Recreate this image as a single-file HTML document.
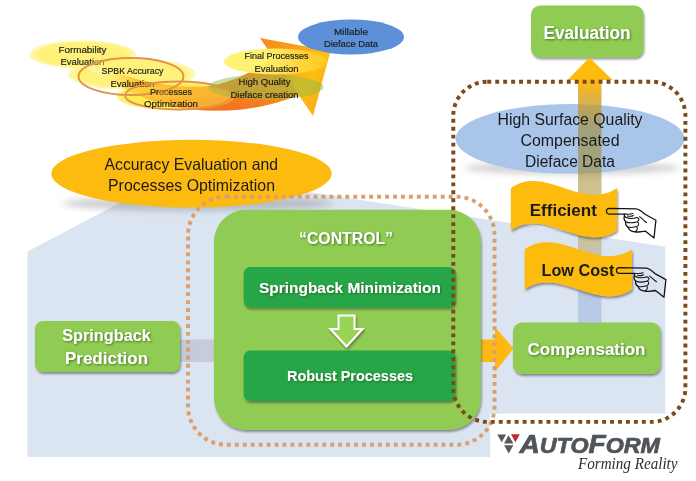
<!DOCTYPE html>
<html>
<head>
<meta charset="utf-8">
<title>Springback Control Diagram</title>
<style>
html,body{margin:0;padding:0;background:#ffffff;}
body{width:696px;height:481px;overflow:hidden;font-family:"Liberation Sans",sans-serif;}
svg{display:block;filter:blur(0.350px);}
text{font-family:"Liberation Sans",sans-serif;}
.w{fill:#ffffff;font-weight:bold;}
.k{fill:#1a1a1a;}
#swoosh text{fill:#1c1c1c;stroke:#1c1c1c;stroke-width:0.18px;}
.serif{font-family:"Liberation Serif",serif;}
</style>
</head>
<body>
<svg width="696" height="481" viewBox="0 0 696 481">
<defs>
  <filter id="blur3" x="-20%" y="-50%" width="140%" height="200%"><feGaussianBlur stdDeviation="3"/></filter>
  <filter id="blur2" x="-20%" y="-50%" width="140%" height="200%"><feGaussianBlur stdDeviation="2"/></filter>
  <filter id="blur1" x="-20%" y="-20%" width="140%" height="140%"><feGaussianBlur stdDeviation="1"/></filter>
  <filter id="soft" x="-5%" y="-5%" width="110%" height="110%"><feGaussianBlur stdDeviation="0.6"/></filter>
  <filter id="tsh" x="-10%" y="-30%" width="120%" height="170%">
    <feGaussianBlur in="SourceAlpha" stdDeviation="1.1" result="b"/>
    <feOffset in="b" dx="0.8" dy="1" result="o"/>
    <feFlood flood-color="#2a5a10" flood-opacity="0.75"/>
    <feComposite in2="o" operator="in" result="s"/>
    <feMerge><feMergeNode in="s"/><feMergeNode in="SourceGraphic"/></feMerge>
  </filter>
  <filter id="bsh" x="-10%" y="-20%" width="120%" height="150%">
    <feGaussianBlur in="SourceAlpha" stdDeviation="1.3" result="b"/>
    <feOffset in="b" dx="1" dy="2.2" result="o"/>
    <feFlood flood-color="#303030" flood-opacity="0.5"/>
    <feComposite in2="o" operator="in" result="s"/>
    <feMerge><feMergeNode in="s"/><feMergeNode in="SourceGraphic"/></feMerge>
  </filter>
  <linearGradient id="gUp" x1="0" y1="57" x2="0" y2="323" gradientUnits="userSpaceOnUse">
    <stop offset="0" stop-color="#ffc000" stop-opacity="1"/>
    <stop offset="0.1" stop-color="#fbb917" stop-opacity="1"/>
    <stop offset="0.17" stop-color="#d09c20" stop-opacity="0.78"/>
    <stop offset="0.27" stop-color="#9c8424" stop-opacity="0.56"/>
    <stop offset="0.45" stop-color="#9e8828" stop-opacity="0.55"/>
    <stop offset="0.7" stop-color="#b8a050" stop-opacity="0.5"/>
    <stop offset="0.88" stop-color="#94afdc" stop-opacity="0.5"/>
    <stop offset="1" stop-color="#94afdc" stop-opacity="0.5"/>
  </linearGradient>
  <linearGradient id="gRight" x1="180" y1="0" x2="513" y2="0" gradientUnits="userSpaceOnUse">
    <stop offset="0" stop-color="#c2cadb" stop-opacity="1"/>
    <stop offset="0.1" stop-color="#c4ccdc" stop-opacity="0.95"/>
    <stop offset="0.102" stop-color="#a8c860" stop-opacity="0.3"/>
    <stop offset="0.6" stop-color="#b4cc50" stop-opacity="0.3"/>
    <stop offset="0.9" stop-color="#c8c840" stop-opacity="0.35"/>
    <stop offset="0.907" stop-color="#fdb813" stop-opacity="1"/>
    <stop offset="1" stop-color="#fdb813" stop-opacity="1"/>
  </linearGradient>
  <linearGradient id="gSwoosh" x1="82" y1="0" x2="330" y2="0" gradientUnits="userSpaceOnUse">
    <stop offset="0" stop-color="#fffbc8"/>
    <stop offset="0.13" stop-color="#ffec70"/>
    <stop offset="0.24" stop-color="#fbb626"/>
    <stop offset="0.42" stop-color="#f7941d"/>
    <stop offset="0.6" stop-color="#f58220"/>
    <stop offset="0.8" stop-color="#f7941d"/>
    <stop offset="1" stop-color="#fdb813"/>
  </linearGradient>
  <linearGradient id="gSwooshV" x1="0" y1="80" x2="0" y2="111" gradientUnits="userSpaceOnUse">
    <stop offset="0" stop-color="#f26a21" stop-opacity="0"/>
    <stop offset="0.45" stop-color="#f26a21" stop-opacity="0"/>
    <stop offset="1" stop-color="#f26a21" stop-opacity="0.75"/>
  </linearGradient>
  <linearGradient id="gHead" x1="262" y1="40" x2="322" y2="82" gradientUnits="userSpaceOnUse">
    <stop offset="0" stop-color="#f68b1f"/>
    <stop offset="0.45" stop-color="#f9a01b"/>
    <stop offset="0.8" stop-color="#fdc010"/>
    <stop offset="1" stop-color="#fcb315"/>
  </linearGradient>
  <linearGradient id="gFinal" x1="224" y1="0" x2="328" y2="0" gradientUnits="userSpaceOnUse">
    <stop offset="0" stop-color="#fff36e" stop-opacity="0.97"/>
    <stop offset="0.5" stop-color="#fff066" stop-opacity="0.92"/>
    <stop offset="0.8" stop-color="#ffe64a" stop-opacity="0.6"/>
    <stop offset="1" stop-color="#ffd83a" stop-opacity="0.35"/>
  </linearGradient>
  <radialGradient id="gY" cx="0.5" cy="0.5" r="0.5">
    <stop offset="0" stop-color="#fff27a" stop-opacity="1"/>
    <stop offset="0.82" stop-color="#fff27a" stop-opacity="1"/>
    <stop offset="1" stop-color="#fff27a" stop-opacity="0.5"/>
  </radialGradient>
  <radialGradient id="gY2" cx="0.5" cy="0.5" r="0.5">
    <stop offset="0" stop-color="#ffee5c" stop-opacity="1"/>
    <stop offset="0.82" stop-color="#ffee5c" stop-opacity="1"/>
    <stop offset="1" stop-color="#ffee5c" stop-opacity="0.5"/>
  </radialGradient>
</defs>

<!-- ===== background platform ===== -->
<g id="bg">
  <polygon points="27.500,251.400 178.500,172 665.300,246.700 665.300,413.600 490,413.600 490,457 27.500,457" fill="#dbe4f1"/>
</g>

<!-- ===== top-left swoosh cluster ===== -->
<g id="swoosh" filter="url(#soft)">
  <g font-size="9.500" text-anchor="middle">
  <!-- formability -->
  <ellipse cx="82.500" cy="54.500" rx="53.500" ry="14" fill="url(#gY)"/>
  <!-- yellow fills 2 and 3 -->
  <ellipse cx="131.500" cy="74" rx="64" ry="16" fill="url(#gY)"/>
  <ellipse cx="176" cy="96" rx="59" ry="14.500" fill="url(#gY2)"/>
  <!-- swoosh arrow -->
  <path d="M82.0,63.0 C85.0,65.2 92.8,71.7 100.0,76.0 C107.2,80.3 116.7,85.0 125.0,89.0 C133.3,93.0 140.8,96.9 150.0,100.0 C159.2,103.1 170.0,105.8 180.0,107.5 C190.0,109.2 199.2,110.2 210.0,110.5 C220.8,110.8 234.2,110.2 245.0,109.0 C255.8,107.8 265.5,105.5 275.0,103.0 C284.5,100.5 297.5,95.5 302.0,94.0 L273,57 C271.2,58.3 265.8,62.5 262.0,65.0 C258.2,67.5 255.0,69.5 250.0,72.0 C245.0,74.5 238.7,77.7 232.0,80.0 C225.3,82.3 217.8,84.9 210.0,86.0 C202.2,87.1 193.3,86.8 185.0,86.5 C176.7,86.2 167.5,85.1 160.0,84.0 C152.5,82.9 146.7,81.7 140.0,80.0 C133.3,78.3 126.7,76.0 120.0,74.0 C113.3,72.0 106.3,69.8 100.0,68.0 C93.7,66.2 85.0,63.8 82.0,63.0 Z" fill="url(#gSwoosh)"/>
  <path d="M82.0,63.0 C85.0,65.2 92.8,71.7 100.0,76.0 C107.2,80.3 116.7,85.0 125.0,89.0 C133.3,93.0 140.8,96.9 150.0,100.0 C159.2,103.1 170.0,105.8 180.0,107.5 C190.0,109.2 199.2,110.2 210.0,110.5 C220.8,110.8 234.2,110.2 245.0,109.0 C255.8,107.8 265.5,105.5 275.0,103.0 C284.5,100.5 297.5,95.5 302.0,94.0 L273,57 C271.2,58.3 265.8,62.5 262.0,65.0 C258.2,67.5 255.0,69.5 250.0,72.0 C245.0,74.5 238.7,77.7 232.0,80.0 C225.3,82.3 217.8,84.9 210.0,86.0 C202.2,87.1 193.3,86.8 185.0,86.5 C176.7,86.2 167.5,85.1 160.0,84.0 C152.5,82.9 146.7,81.7 140.0,80.0 C133.3,78.3 126.7,76.0 120.0,74.0 C113.3,72.0 106.3,69.8 100.0,68.0 C93.7,66.2 85.0,63.8 82.0,63.0 Z" fill="url(#gSwooshV)"/>
  <polygon points="260,38 330.500,51 313,116" fill="url(#gHead)"/>
  <!-- final processes yellow -->
  <ellipse cx="176" cy="97" rx="58" ry="13" fill="#ffe94a" opacity="0.450"/>
  <ellipse cx="276" cy="61.500" rx="52" ry="13" fill="url(#gFinal)"/>
  <!-- high quality olive -->
  <ellipse cx="266" cy="87" rx="57.500" ry="12.500" fill="#8fbc4a" opacity="0.500"/>
  <text x="82.500" y="52.500" textLength="48" lengthAdjust="spacingAndGlyphs">Formability</text>
  <text x="82.500" y="65" textLength="44" lengthAdjust="spacingAndGlyphs">Evaluati<tspan fill-opacity="0.350">on</tspan></text>
  <!-- SPBK outlined -->
  <ellipse cx="131" cy="76.500" rx="52.500" ry="18.500" fill="none" stroke="#e0944a" stroke-width="1.800"/>
  <text x="132.500" y="74" textLength="62" lengthAdjust="spacingAndGlyphs">SPBK Accuracy</text>
  <text x="132.500" y="86.500" textLength="44" lengthAdjust="spacingAndGlyphs">Evaluati<tspan fill-opacity="0.350">on</tspan></text>
  <!-- Processes outlined -->
  <ellipse cx="178.500" cy="95.500" rx="53.500" ry="14" fill="none" stroke="#e0944a" stroke-width="1.800"/>
  <text x="171" y="94.500" textLength="42" lengthAdjust="spacingAndGlyphs">Pr<tspan fill-opacity="0.350">oc</tspan>esses</text>
  <text x="171" y="107" textLength="54" lengthAdjust="spacingAndGlyphs">Optimization</text>
  <!-- blue ellipse -->
  <ellipse cx="351" cy="37" rx="53" ry="17.500" fill="#5b90d8"/>
  <text x="276.500" y="59" textLength="64" lengthAdjust="spacingAndGlyphs">Final Processes</text>
  <text x="276.500" y="71.500" textLength="44" lengthAdjust="spacingAndGlyphs">Evaluation</text>
  <text x="264.500" y="85" textLength="52" lengthAdjust="spacingAndGlyphs">High Quality</text>
  <text x="264.500" y="97.500" textLength="68" lengthAdjust="spacingAndGlyphs">Dieface creation</text>
  <text x="351" y="34.500" textLength="34" lengthAdjust="spacingAndGlyphs">Millable</text>
  <text x="351" y="47" textLength="54" lengthAdjust="spacingAndGlyphs">Dieface Data</text>
  </g>
</g>

<!-- ===== big yellow ellipse ===== -->
<g id="accuracy">
  <ellipse cx="198" cy="203.500" rx="136" ry="7.500" fill="#707070" opacity="0.330" filter="url(#blur3)"/>
  <ellipse cx="191.500" cy="173.700" rx="140.200" ry="33.900" fill="#fdbb10"/>
  <text class="k" x="191.300" y="170" font-size="16.500" text-anchor="middle" textLength="173.500" lengthAdjust="spacingAndGlyphs">Accuracy Evaluation and</text>
  <text class="k" x="191.5" y="191" font-size="16.5" text-anchor="middle" textLength="167" lengthAdjust="spacingAndGlyphs">Processes Optimization</text>
</g>

<!-- ===== horizontal flow arrow ===== -->
<g id="harrow">
  <polygon points="180,339.500 495,339.500 495,327 513.500,348.500 495,372 495,362 180,362" fill="url(#gRight)"/>
</g>

<!-- ===== green boxes ===== -->
<g id="boxes">
  <!-- Springback Prediction -->
  <rect x="35" y="321" width="145" height="51" rx="8" ry="8" fill="#90cb52" filter="url(#bsh)"/>
  <g filter="url(#tsh)">
    <text class="w" x="106.5" y="341" font-size="17" text-anchor="middle" textLength="88.5" lengthAdjust="spacingAndGlyphs">Springback</text>
    <text class="w" x="106.5" y="364" font-size="17" text-anchor="middle" textLength="83" lengthAdjust="spacingAndGlyphs">Prediction</text>
  </g>
  <!-- CONTROL -->
  <rect x="214" y="209.700" width="266.800" height="220.300" rx="32" ry="32" fill="#90cb52" filter="url(#bsh)"/>
  <g filter="url(#tsh)">
    <text class="w" x="346" y="243.5" font-size="16" text-anchor="middle" textLength="94" lengthAdjust="spacingAndGlyphs">“CONTROL”</text>
  </g>
  <rect x="243.700" y="267" width="211.800" height="40.500" rx="6.500" ry="6.500" fill="#28a548" filter="url(#bsh)"/>
  <rect x="243.700" y="350.500" width="211.800" height="50.500" rx="6.500" ry="6.500" fill="#28a548" filter="url(#bsh)"/>
  <g filter="url(#tsh)">
    <text class="w" x="350" y="292.600" font-size="15.500" text-anchor="middle" textLength="182" lengthAdjust="spacingAndGlyphs">Springback Minimization</text>
    <text class="w" x="350" y="381.300" font-size="15.500" text-anchor="middle" textLength="126" lengthAdjust="spacingAndGlyphs">Robust Processes</text>
  </g>
  <polygon points="338.500,315.500 354.500,315.500 354.500,329 362.500,329 346.500,346.500 330.500,329 338.500,329" fill="#9ad455" stroke="#ffffff" stroke-width="2" stroke-linejoin="miter" filter="url(#bsh)"/>
</g>

<!-- ===== right column ===== -->
<g id="right">
  <!-- Evaluation -->
  <rect x="531" y="5.500" width="112.500" height="52" rx="9" ry="9" fill="#90cb52" filter="url(#bsh)"/>
  <g filter="url(#tsh)">
    <text class="w" x="587" y="38.500" font-size="17.500" text-anchor="middle" textLength="87" lengthAdjust="spacingAndGlyphs">Evaluation</text>
  </g>
  <!-- Compensation -->
  <rect x="513" y="322.500" width="147.500" height="51.500" rx="9" ry="9" fill="#90cb52" filter="url(#bsh)"/>
  <g filter="url(#tsh)">
    <text class="w" x="586.500" y="355" font-size="17" text-anchor="middle" textLength="118" lengthAdjust="spacingAndGlyphs">Compensation</text>
  </g>
  <!-- blue ellipse -->
  <ellipse cx="572" cy="168" rx="108" ry="6.500" fill="#777777" opacity="0.320" filter="url(#blur3)"/>
  <ellipse cx="570" cy="138.800" rx="114.500" ry="34.800" fill="#a9c5ea"/>
  <!-- vertical arrow -->
  <polygon points="589.500,57.500 612.500,80 601.500,80 601.500,323 578,323 578,80 567.500,80" fill="url(#gUp)"/>
  <text class="k" x="570" y="124.500" font-size="16" text-anchor="middle" textLength="145" lengthAdjust="spacingAndGlyphs">High Surface Quality</text>
  <text class="k" x="570" y="145.500" font-size="16" text-anchor="middle" textLength="99" lengthAdjust="spacingAndGlyphs">Compensated</text>
  <text class="k" x="570" y="166.500" font-size="16" text-anchor="middle" textLength="90" lengthAdjust="spacingAndGlyphs">Dieface Data</text>
  <!-- banners -->
  <path d="M510.900,188 C546.300,164 581.600,212 617,188 L617,230.500 C581.600,254.500 546.300,206.500 510.900,230.500 Z" fill="#fdbb10" filter="url(#bsh)"/>
  <path d="M524.700,249.300 C560.500,225.300 596.200,273.300 632,249.300 L632,289.500 C596.200,313.500 560.500,265.500 524.700,289.500 Z" fill="#fdbb10" filter="url(#bsh)"/>
  <text class="k" x="563.300" y="216" font-size="16.300" font-weight="bold" text-anchor="middle" textLength="67" lengthAdjust="spacingAndGlyphs">Efficient</text>
  <text class="k" x="578" y="276.400" font-size="16.300" font-weight="bold" text-anchor="middle" textLength="73" lengthAdjust="spacingAndGlyphs">Low Cost</text>
  <g transform="translate(606.500,208.300)"><g>
    <path d="M2.6,0 L29.8,0.6 C33.5,1 36.5,4.5 38.5,6 L49.4,12 L47.5,29.6 L39,22.9 C35,23.8 31,23.8 28.5,23.5 C24.5,23.2 22.3,21.5 21.5,18.8 C19.6,17.6 18.8,15.5 19.2,13.4 C17.6,12 17.2,9.8 18,7.8 C17.6,7 17.8,6.2 18.4,5.8 L2.6,5.8 C-0.9,5.8 -0.9,0 2.6,0 Z" fill="none" stroke="#141414" stroke-width="1.300" stroke-linejoin="round"/>
    <path d="M18.4,5.8 C21,6 24,6.3 26.5,5.2 M18,7.8 C19.5,10.6 26,10.6 30.5,9.2 C33,10 33.2,12.4 30.6,13.4 C27,14.6 22,14.8 19.2,13.4 M30.6,13.4 C33,14.6 32.6,17.4 30,18.2 C27,19 23.5,19.4 21.5,18.8 M30,18.2 C31.6,19.6 31,22 28.5,23.5 M33,8.5 C35.5,10 37.5,12.5 40,14.2 M21,7.6 C23,8.2 25.5,8 27,7.2" fill="none" stroke="#141414" stroke-width="1.050" stroke-linecap="round"/>
  </g></g>
  <g transform="translate(616.500,267.600)"><g>
    <path d="M2.6,0 L29.8,0.6 C33.5,1 36.5,4.5 38.5,6 L49.4,12 L47.5,29.6 L39,22.9 C35,23.8 31,23.8 28.5,23.5 C24.5,23.2 22.3,21.5 21.5,18.8 C19.6,17.6 18.8,15.5 19.2,13.4 C17.6,12 17.2,9.8 18,7.8 C17.6,7 17.8,6.2 18.4,5.8 L2.6,5.8 C-0.9,5.8 -0.9,0 2.6,0 Z" fill="none" stroke="#141414" stroke-width="1.300" stroke-linejoin="round"/>
    <path d="M18.4,5.8 C21,6 24,6.3 26.5,5.2 M18,7.8 C19.5,10.6 26,10.6 30.5,9.2 C33,10 33.2,12.4 30.6,13.4 C27,14.6 22,14.8 19.2,13.4 M30.6,13.4 C33,14.6 32.6,17.4 30,18.2 C27,19 23.5,19.4 21.5,18.8 M30,18.2 C31.6,19.6 31,22 28.5,23.5 M33,8.5 C35.5,10 37.5,12.5 40,14.2 M21,7.6 C23,8.2 25.5,8 27,7.2" fill="none" stroke="#141414" stroke-width="1.050" stroke-linecap="round"/>
  </g></g>
</g>

<!-- ===== dotted frames ===== -->
<g id="frames">
  <rect x="188.100" y="196.700" width="306.400" height="248" rx="38" ry="38" fill="none" stroke="#db9f6e" stroke-width="3.900" stroke-dasharray="3.900 4.050"/>
  <rect x="453.300" y="81.700" width="232.100" height="340.200" rx="34" ry="34" fill="none" stroke="#7a4a1c" stroke-width="3.900" stroke-dasharray="3.900 4.050"/>
</g>

<!-- ===== logo ===== -->
<g id="logo" filter="url(#soft)">
  <g>
    <polygon points="497.300,434.500 506,434.500 501.650,442.300" fill="#54585d"/>
    <polygon points="508.500,435.300 504.100,443.600 513.400,443.600" fill="#54585d"/>
    <polygon points="511,434.300 519.800,434.300 515.400,442.300" fill="#c2262e"/>
    <polygon points="504.100,445.200 513.400,445.200 508.700,453.500" fill="#54585d"/>
  </g>
  <g fill="#4f5459" stroke="#4f5459" stroke-width="0.700" font-weight="bold" font-style="italic">
    <text x="519.500" y="453.300" font-size="26" textLength="140.500" lengthAdjust="spacingAndGlyphs"><tspan>A</tspan><tspan font-size="21.500">UTO</tspan><tspan font-size="26">F</tspan><tspan font-size="21.500">ORM</tspan></text>
  </g>
  <text class="serif" x="578" y="468.500" font-size="16" font-style="italic" fill="#2e2e2e" textLength="99.500" lengthAdjust="spacingAndGlyphs">Forming Reality</text>
</g>
</svg>
</body>
</html>
